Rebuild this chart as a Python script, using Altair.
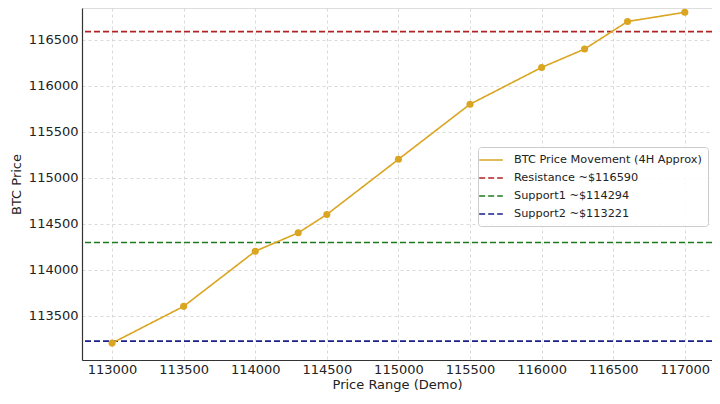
import altair as alt
import pandas as pd

# ---- data ----
x_price = [113000, 113500, 114000, 114300, 114500, 115000, 115500, 116000, 116300, 116600, 117000]
btc_price = [113200, 113600, 114200, 114400, 114600, 115200, 115800, 116200, 116400, 116700, 116800]
series_name = "BTC Price Movement (4H Approx)"
level_names = ["Resistance ~$116590", "Support1 ~$114294", "Support2 ~$113221"]
level_values = [116590, 114294, 113221]
x_ticks = [113000, 113500, 114000, 114500, 115000, 115500, 116000, 116500, 117000]
y_ticks = [113500, 114000, 114500, 115000, 115500, 116000, 116500]

all_series = [series_name] + level_names
colors = ["#DAA520", "#B22222", "#1E7A1E", "#1A1F8A"]
dashes = [[1, 0], [6, 3], [6, 3], [6, 3]]

line_df = pd.DataFrame({"x": x_price, "y": btc_price, "series": series_name})
level_df = pd.DataFrame({"y": level_values, "series": level_names})

FONT = "DejaVu Sans"

x_scale = alt.Scale(domain=[112790, 117190], nice=False, zero=False)
y_scale = alt.Scale(domain=[113016, 116847], nice=False, zero=False)

color_enc = alt.Color(
    "series:N",
    scale=alt.Scale(domain=all_series, range=colors),
    sort=all_series,
    title=None,
    legend=alt.Legend(
        orient="none",
        legendX=396,
        legendY=139,
        direction="vertical",
        fillColor="rgba(255,255,255,0.85)",
        strokeColor="#cccccc",
        cornerRadius=3,
        padding=6,
        rowPadding=5,
        labelFont=FONT,
        labelFontSize=11.3,
        labelColor="#222222",
        labelOffset=16,
        symbolType="M-2,0H2",
        symbolSize=140,
        symbolStrokeWidth=1.6,
        labelLimit=300,
    ),
)
dash_enc = alt.StrokeDash(
    "series:N",
    scale=alt.Scale(domain=all_series, range=dashes),
    sort=all_series,
    title=None,
)

x_axis = alt.Axis(
    values=x_ticks,
    format="d",
    title="Price Range (Demo)",
    titleFont=FONT,
    titleFontSize=13,
    titleFontWeight="normal",
    titleColor="#222222",
    titlePadding=2,
    labelFont=FONT,
    labelFontSize=13,
    labelColor="#222222",
    labelPadding=3,
    ticks=False,
    domainColor="#333333",
    domainWidth=1.2,
    grid=True,
    gridColor="#d0d0d0",
    gridDash=[3, 3],
    gridWidth=0.8,
)
y_axis = alt.Axis(
    values=y_ticks,
    format="d",
    title="BTC Price",
    titleFont=FONT,
    titleFontSize=13,
    titleFontWeight="normal",
    titleColor="#222222",
    titlePadding=5,
    labelFont=FONT,
    labelFontSize=13,
    labelColor="#222222",
    labelPadding=4,
    ticks=False,
    domainColor="#333333",
    domainWidth=1.2,
    grid=True,
    gridColor="#d0d0d0",
    gridDash=[3, 3],
    gridWidth=0.8,
)

rules = alt.Chart(level_df).mark_rule(strokeWidth=1.6).encode(
    y=alt.Y("y:Q", scale=y_scale, axis=y_axis),
    color=color_enc,
    strokeDash=dash_enc,
)

line = alt.Chart(line_df).mark_line(
    strokeWidth=1.6,
    point=alt.OverlayMarkDef(filled=True, size=50),
).encode(
    x=alt.X("x:Q", scale=x_scale, axis=x_axis),
    y=alt.Y("y:Q", scale=y_scale, axis=y_axis),
    color=color_enc,
    strokeDash=dash_enc,
)

chart = (
    alt.layer(rules, line)
    .properties(
        width=630,
        height=352,
        autosize=alt.AutoSizeParams(type="none"),
        padding={"left": 74, "top": 0, "right": 0, "bottom": 34},
    )
    .configure_view(stroke=None)
    .configure(background="white")
)

chart.save("out.html", embed_options={"renderer": "svg", "actions": False})
